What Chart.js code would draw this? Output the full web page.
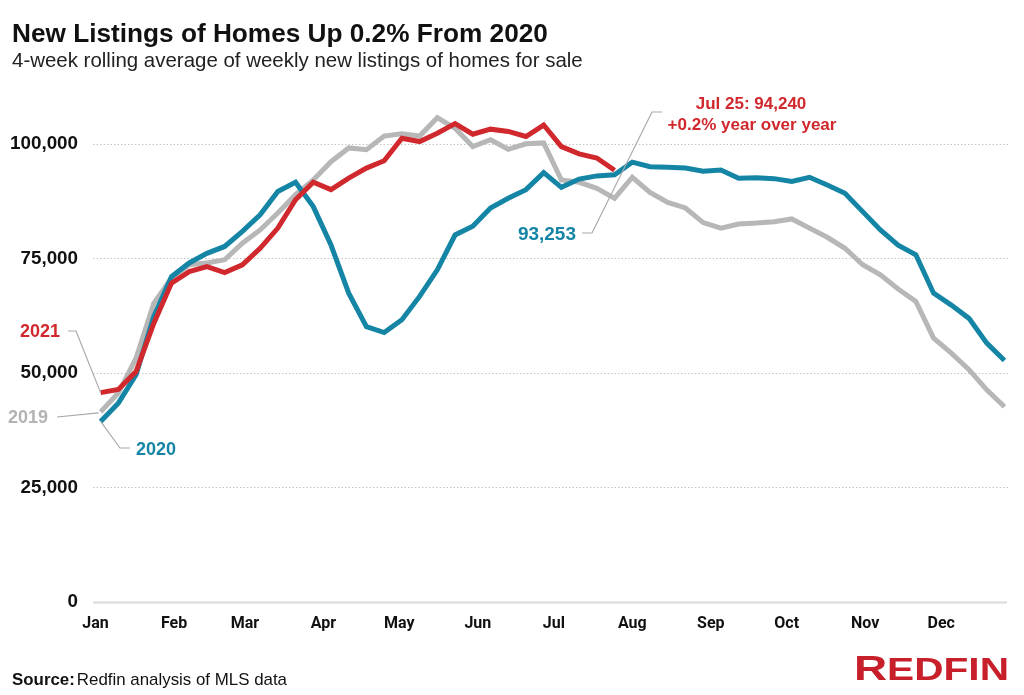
<!DOCTYPE html>
<html>
<head>
<meta charset="utf-8">
<script src="https://cdn.jsdelivr.net/npm/chart.js@4.4.1/dist/chart.umd.min.js"></script>
<style>
html,body{margin:0;padding:0;background:#fff;}
canvas{display:block;}
</style>
</head>
<body>
<canvas id="c" width="1024" height="695" style="width:1024px;height:695px"></canvas>
<script>
// ---- data ----
const monthDays = [0,31,59,90,120,151,181,212,243,273,304,334];
const monthLabels = ['Jan','Feb','Mar','Apr','May','Jun','Jul','Aug','Sep','Oct','Nov','Dec'];
const yTicks = [0,25000,50000,75000,100000];
const weekDays = [2,9,16,23,30,37,44,51,58,65,72,79,86,93,100,107,114,121,128,135,142,149,156,163,170,177,184,191,198,205,212,219,226,233,240,247,254,261,268,275,282,289,296,303,310,317,324,331,338,345,352,359];
const listings2021 = [45700,46400,50300,60800,69600,72100,73200,71900,73600,77200,81600,87800,91600,90000,92500,94700,96300,101200,100500,102300,104400,102100,103200,102700,101600,104100,99400,97800,96900,94240];
const listings2020 = [39400,43400,49600,62300,71000,74000,76100,77600,80900,84500,89600,91600,86300,77900,67400,60100,58800,61600,66700,72500,80100,82000,86000,88100,90000,93700,90500,92300,93000,93253,96000,95000,94900,94700,94000,94300,92500,92600,92400,91800,92700,91000,89200,85200,81200,77900,75800,67400,64800,61900,56500,52700];
const listings2019 = [41500,45600,53200,65200,70700,73600,74000,74700,78300,81200,84900,88900,92100,96100,99100,98700,101700,102200,101700,105700,103400,99400,100900,98800,100000,100200,92100,91600,90300,88100,92700,89400,87200,86000,82800,81600,82500,82700,83000,83600,81600,79600,77200,73600,71400,68300,65600,57600,54300,50700,46300,42600];

const RED = '#d0282d', BLUE = '#1585a5', GRAY = '#b7b7b7';
const pts = vals => vals.map((v,i)=>({x: weekDays[i], y: v}));

const mctx = document.createElement('canvas').getContext('2d');
function fit(text, weight, family, target){
  mctx.font = weight + ' 100px ' + family;
  return 100 * target / mctx.measureText(text).width;
}
const yFontSize = Math.min(19, fit('100,000','bold','"Liberation Sans"',68));

const decor = {
  id:'decor',
  beforeDatasetsDraw(chart){
    const {ctx, chartArea:a, scales:{y}} = chart;
    ctx.save();
    yTicks.forEach(v=>{
      const py = Math.round(y.getPixelForValue(v));
      ctx.beginPath();
      if (v === 0){
        ctx.setLineDash([]); ctx.strokeStyle = '#d9d9d9'; ctx.lineWidth = 2;
        ctx.moveTo(a.left, py+0.5); ctx.lineTo(a.right, py+0.5);
      } else {
        ctx.setLineDash([1.5,2]); ctx.strokeStyle = '#c4c4c4'; ctx.lineWidth = 1;
        ctx.moveTo(a.left, py+0.5); ctx.lineTo(a.right+1, py+0.5);
      }
      ctx.stroke();
    });
    ctx.restore();
  },
  afterDraw(chart){
    const {ctx, scales:{x,y}} = chart;
    ctx.save();
    ctx.textBaseline = 'alphabetic';
    // title
    let s = fit('New Listings of Homes Up 0.2% From 2020','bold','"Liberation Sans"',536);
    ctx.fillStyle = '#111';
    ctx.font = 'bold ' + s + 'px "Liberation Sans"';
    ctx.textAlign = 'left';
    ctx.fillText('New Listings of Homes Up 0.2% From 2020', 12, 42);
    s = fit('4-week rolling average of weekly new listings of homes for sale','normal','"Liberation Sans"',571);
    ctx.font = 'normal ' + s + 'px "Liberation Sans"';
    ctx.fillStyle = '#222';
    ctx.fillText('4-week rolling average of weekly new listings of homes for sale', 12, 67);
    // source (condensed by horizontal scaling)
    ctx.font = 'bold 17px "Liberation Sans"';
    const sw = ctx.measureText('Source:').width;
    ctx.font = 'normal 17px "Liberation Sans"';
    const tw = ctx.measureText('Redfin analysis of MLS data').width;
    const ssc = 275 / (sw + 2 + tw);
    ctx.save();
    ctx.translate(12, 685);
    ctx.scale(ssc, 1);
    ctx.fillStyle = '#111';
    ctx.font = 'bold 17px "Liberation Sans"';
    ctx.fillText('Source:', 0, 0);
    ctx.font = 'normal 17px "Liberation Sans"';
    ctx.fillText('Redfin analysis of MLS data', sw + 2, 0);
    ctx.restore();
    // logo
    ctx.fillStyle = '#c8202a';
    ctx.font = 'bold 35px "Liberation Sans"';
    const rw = ctx.measureText('R').width;
    ctx.font = 'bold 31px "Liberation Sans"';
    const ew = ctx.measureText('EDFIN').width;
    const sc = 155 / (rw + ew);
    ctx.save();
    ctx.translate(854, 680);
    ctx.scale(sc, 1);
    ctx.font = 'bold 35px "Liberation Sans"';
    ctx.fillText('R', 0, 0);
    ctx.font = 'bold 31px "Liberation Sans"';
    ctx.fillText('EDFIN', rw, 0);
    ctx.restore();

    // series labels and leaders
    const p = (d,v)=>[x.getPixelForValue(d), y.getPixelForValue(v)];
    ctx.strokeStyle = '#a9a9a9';
    ctx.lineWidth = 1.2;
    const line = arr => { ctx.beginPath(); ctx.moveTo(arr[0][0],arr[0][1]); arr.slice(1).forEach(q=>ctx.lineTo(q[0],q[1])); ctx.stroke(); };
    const r0 = p(weekDays[0], listings2021[0]);
    const b0 = p(weekDays[0], listings2020[0]);
    const g0 = p(weekDays[0], listings2019[0]);
    line([[68,331],[76,331],[r0[0],r0[1]]]);
    line([[57,417],[g0[0]-2,g0[1]+1]]);
    line([[b0[0],b0[1]],[120,448],[130,448]]);
    line([[582,233],[592,233],[652,112],[662,112]]);

    ctx.font = 'bold 18px "Liberation Sans"';
    ctx.textAlign = 'left';
    ctx.fillStyle = RED; ctx.fillText('2021', 20, 337);
    ctx.fillStyle = '#b3b3b3'; ctx.fillText('2019', 8, 423);
    ctx.fillStyle = BLUE; ctx.fillText('2020', 136, 455);
    ctx.font = 'bold 19px "Liberation Sans"';
    ctx.textAlign = 'right';
    ctx.fillStyle = BLUE; ctx.fillText('93,253', 576, 240);
    ctx.textAlign = 'center';
    ctx.fillStyle = RED;
    s = fit('+0.2% year over year','bold','"Liberation Sans"',169);
    ctx.font = 'bold ' + s + 'px "Liberation Sans"';
    ctx.fillText('Jul 25: 94,240', 751, 109);
    ctx.fillText('+0.2% year over year', 752, 130);
    ctx.restore();
  }
};

new Chart(document.getElementById('c'), {
  type:'line',
  data:{
    datasets:[
      {label:'2021', data: pts(listings2021), borderColor: RED},
      {label:'2020', data: pts(listings2020), borderColor: BLUE},
      {label:'2019', data: pts(listings2019), borderColor: GRAY}
    ]
  },
  options:{
    responsive:false,
    animation:false,
    devicePixelRatio:1,
    layout:{padding:{top:98,right:17,left:0,bottom:0}},
    elements:{
      line:{borderWidth:5, tension:0, borderJoinStyle:'miter', borderCapStyle:'butt', fill:false},
      point:{radius:0, hoverRadius:0}
    },
    plugins:{legend:{display:false}, tooltip:{enabled:false}},
    scales:{
      x:{
        type:'linear', min:-1, max:360,
        grid:{display:false, drawTicks:false},
        border:{display:false},
        afterBuildTicks: s => { s.ticks = monthDays.map(v=>({value:v})); },
        afterFit: s => { s.height = 93; },
        ticks:{
          autoSkip:false, maxRotation:0, padding:12, color:'#111',
          font:{family:'Roboto', weight:'bold', size:16},
          callback: v => monthLabels[monthDays.indexOf(v)]
        }
      },
      y:{
        min:0, max:110000,
        grid:{display:false, drawTicks:false},
        border:{display:false},
        afterBuildTicks: s => { s.ticks = yTicks.map(v=>({value:v})); },
        afterFit: s => { s.width = 93; },
        ticks:{
          padding:15, color:'#111',
          font:{family:'"Liberation Sans"', weight:'bold', size: yFontSize},
          callback: v => v.toLocaleString('en-US')
        }
      }
    }
  },
  plugins:[decor]
});
</script>
</body>
</html>
